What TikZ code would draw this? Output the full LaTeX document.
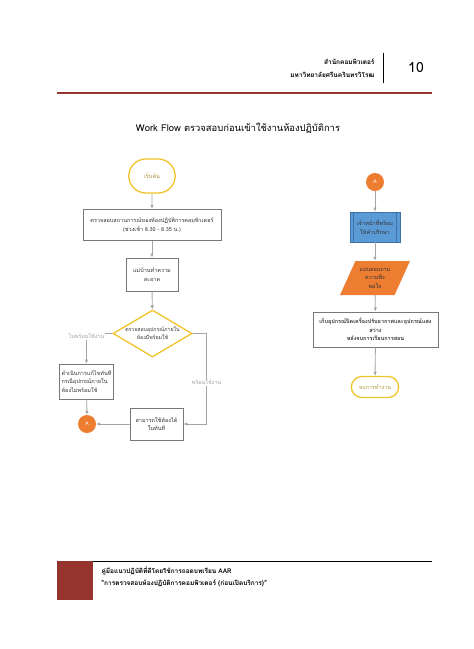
\documentclass[tikz,border=0pt]{standalone}
\usepackage{fontspec}
\setmainfont{Loma}[Script=Thai]
\definecolor{redbar1}{RGB}{150, 52, 48}
\definecolor{yellow1}{RGB}{240, 196, 40}
\definecolor{olive1}{RGB}{175, 150, 60}
\definecolor{orange1}{RGB}{237, 125, 49}
\definecolor{blue1}{RGB}{91, 155, 213}
\definecolor{blue2}{RGB}{65, 113, 170}
\definecolor{gray1}{RGB}{165, 165, 165}
\definecolor{gray2}{RGB}{120, 120, 120}
\usetikzlibrary{shapes, arrows.meta, positioning, calc}
\tikzset{
  flowtext/.style={font=\fontsize{5.5}{8.5}\selectfont, text=black!80},
  procbox/.style={flowtext, draw=gray2, line width=0.9pt, fill=white, align=center, inner sep=2pt},
  termbox/.style={flowtext, rounded rectangle, draw=yellow1, line width=1.3pt, fill=white, text=olive1},
  decision/.style={flowtext, diamond, shape aspect=1.75, draw=yellow1, line width=1.3pt, fill=white, align=center, inner sep=0pt},
  connector/.style={circle, fill=orange1, minimum size=18pt, inner sep=0pt, text=white, font=\fontsize{5}{6}\selectfont},
  flowline/.style={draw=gray1, line width=0.9pt, -{Latex[length=4pt, width=3.5pt]}},
  branchlabel/.style={flowtext, text=gray1, fill=white, inner sep=1pt}
}

\begin{document}
\begin{tikzpicture}[x=1pt, y=-1pt]
  \useasboundingbox[fill=white] (0,0) rectangle (474,649);

  \node[anchor=east, font=\fontsize{6.5}{8}\bfseries] (office) at (378,62) {สำนักคอมพิวเตอร์};
  \node[anchor=east, font=\fontsize{6.5}{8}\bfseries] (univ) at (378,75) {มหาวิทยาลัยศรีนครินทรวิโรฒ};
  \draw[line width=0.8pt] (383,53) -- (383,83);
  \node[font=\fontsize{14}{16}\selectfont] (page) at (416,68) {10};
  \draw[redbar1, line width=1.6pt] (57,93) -- (432,93);

  \node[font=\fontsize{9.4}{12}\selectfont] (title) at (238,128) {Work Flow ตรวจสอบก่อนเข้าใช้งานห้องปฏิบัติการ};

  \node[termbox, minimum width=53pt, minimum height=34pt] (start) at (152,176) {เริ่มต้น};
  \node[procbox, minimum width=138pt, minimum height=31pt] (checkroom) at (152,225) {ตรวจสอบสถานการณ์ของห้องปฏิบัติการคอมพิวเตอร์\\(ช่วงเช้า 8.30 - 8.35 น.)};
  \node[procbox, minimum width=52pt, minimum height=33pt] (clean) at (152,274.5) {แม่บ้านทำความ\\สะอาด};
  \node[decision, minimum width=79pt, minimum height=47pt, font=\fontsize{5.2}{8}\selectfont] (ready) at (152.5,333.5) {ตรวจสอบอุปกรณ์ภายใน\\ห้องมีพร้อมใช้};
  \node[procbox, align=left, minimum width=53pt, minimum height=35pt] (fixnow) at (86.5,381.5) {ดำเนินการแก้ไขทันที\\กรณีอุปกรณ์ภายใน\\ห้องไม่พร้อมใช้};
  \node[connector] (linkleft) at (87,424) {A};
  \node[procbox, minimum width=53pt, minimum height=32pt] (useroom) at (156.5,424) {สามารถใช้ห้องได้\\ในทันที};

  \draw[flowline] (start) -- (checkroom);
  \draw[flowline] (checkroom) -- (clean);
  \draw[flowline] (clean) -- (ready);
  \draw[flowline] (ready.west) -| node[branchlabel, pos=0.5, yshift=-3pt] {ไม่พร้อมใช้งาน} (fixnow.north);
  \draw[flowline] (ready.east) -- ++(14,0) |- node[branchlabel, pos=0.27] {พร้อมใช้งาน} (useroom.east);
  \draw[flowline] (fixnow) -- (linkleft);
  \draw[flowline] (useroom) -- (linkleft);

  \node[connector] (linkright) at (375,182) {A};
  \node[flowtext, draw=blue2, fill=blue1, line width=0.8pt, align=center, minimum width=50pt, minimum height=30pt] (advise) at (375,227) {เจ้าหน้าที่พร้อม\\ให้คำปรึกษา};
  \draw[blue2, line width=0.8pt] ($(advise.north west)+(4,0)$) -- ($(advise.south west)+(4,0)$);
  \draw[blue2, line width=0.8pt] ($(advise.north east)+(-4,0)$) -- ($(advise.south east)+(-4,0)$);
  \node[flowtext, trapezium, trapezium left angle=60, trapezium right angle=120, trapezium stretches=true, fill=orange1, align=center, minimum width=70pt, minimum height=34pt, inner sep=1pt] (survey) at (375,278) {แบบสอบถาม\\ความพึง\\พอใจ};
  \node[procbox, minimum width=125pt, minimum height=35pt, font=\fontsize{5.5}{8.5}\bfseries] (storegear) at (375.5,329.5) {เก็บอุปกรณ์ปิดเครื่องปรับอากาศและอุปกรณ์แสง\\สว่าง\\หลังจบการเรียนการสอน};
  \node[termbox, minimum width=54pt, minimum height=21pt] (finish) at (375,387) {จบการทำงาน};

  \draw[flowline] (linkright) -- (advise);
  \draw[flowline] (advise) -- (survey);
  \draw[flowline] (survey) -- (storegear);
  \draw[flowline] (storegear) -- (finish);

  \fill[redbar1] (57,561) rectangle (93,600);
  \draw[line width=0.8pt] (93,561) -- (432,561);
  \node[anchor=west, font=\fontsize{6.5}{8}\bfseries] (manual) at (98,571) {คู่มือแนวปฏิบัติที่ดีโดยใช้การถอดบทเรียน AAR};
  \node[anchor=west, font=\fontsize{6.5}{8}\bfseries] (manualsub) at (98,583) {“การตรวจสอบห้องปฏิบัติการคอมพิวเตอร์ (ก่อนเปิดบริการ)”};
\end{tikzpicture}
\end{document}
